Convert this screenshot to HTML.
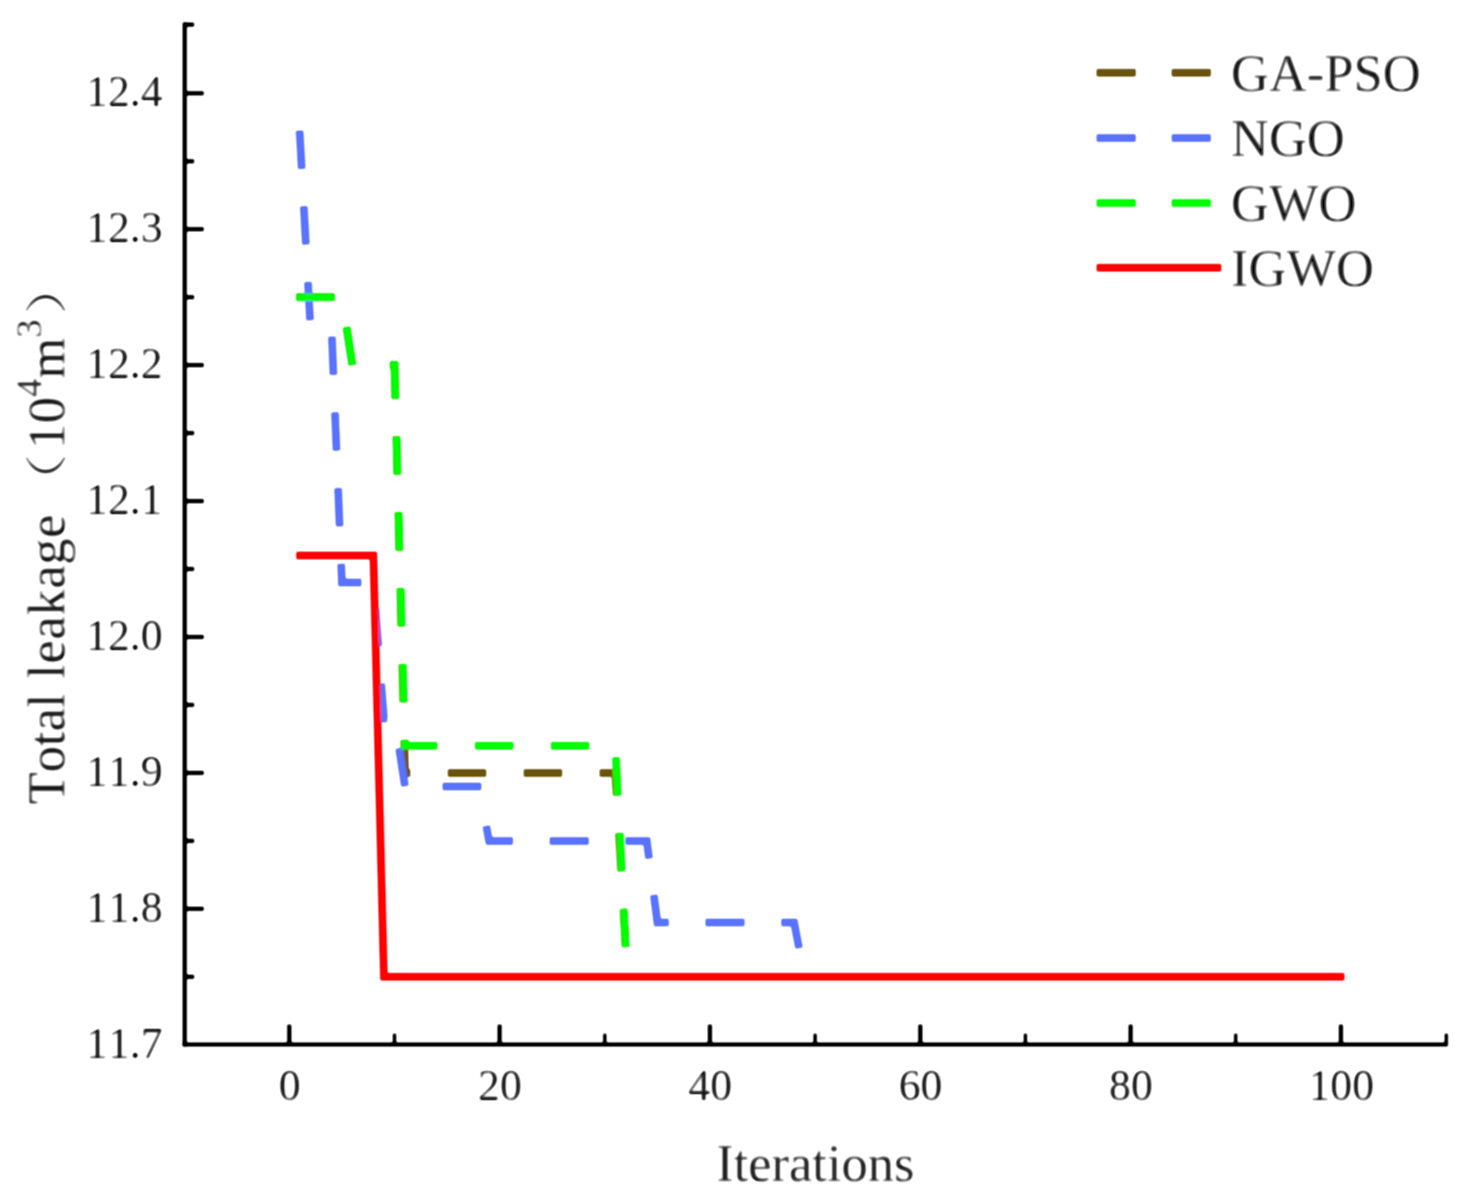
<!DOCTYPE html>
<html lang="en"><head><meta charset="utf-8"><title>Total leakage vs Iterations</title>
<style>html,body{margin:0;padding:0;background:#fff;}body{width:1473px;height:1202px;overflow:hidden;}svg{display:block;}text{font-family:"Liberation Serif","Noto Serif CJK SC",serif;fill:#000;font-kerning:none;stroke:#fff;stroke-width:0.3px;}.tk{font-size:43.75px;stroke-width:0.2px;}.tt{font-size:52.5px;}.sup{font-size:36.75px;}.cj{font-family:"Noto Serif CJK SC","Liberation Serif",serif;font-size:52.5px;font-weight:200;fill:#222;stroke:none;}.ln{fill:none;stroke-width:7.5;stroke-linejoin:miter;}.ds{stroke-dasharray:38.3 37.6;}</style></head><body>
<svg width="1473" height="1202" viewBox="0 0 1473 1202">
<defs><filter id="b" x="-2%" y="-2%" width="104%" height="104%"><feGaussianBlur stdDeviation="0.9"/><feComponentTransfer><feFuncA type="linear" slope="1.5" intercept="-0.22"/></feComponentTransfer></filter></defs>
<rect width="1473" height="1202" fill="#fff"/>
<g filter="url(#b)">
<g stroke="#000" stroke-width="4.2" fill="none">
<path d="M184.7 22.3 V1046.6"/>
<path d="M182.6 1044.5 H1448.0"/>
<path d="M184.7 976.8 H194.2"/>
<path d="M184.7 908.8 H203.8"/>
<path d="M184.7 840.9 H194.2"/>
<path d="M184.7 772.9 H203.8"/>
<path d="M184.7 704.9 H194.2"/>
<path d="M184.7 637.0 H203.8"/>
<path d="M184.7 569.0 H194.2"/>
<path d="M184.7 501.1 H203.8"/>
<path d="M184.7 433.1 H194.2"/>
<path d="M184.7 365.1 H203.8"/>
<path d="M184.7 297.2 H194.2"/>
<path d="M184.7 229.2 H203.8"/>
<path d="M184.7 161.3 H194.2"/>
<path d="M184.7 93.3 H203.8"/>
<path d="M184.7 24.6 H194.2"/>
<path d="M289.3 1044.5 V1024.5"/>
<path d="M394.5 1044.5 V1033.5" stroke-width="3.4"/>
<path d="M499.6 1044.5 V1024.5"/>
<path d="M604.8 1044.5 V1033.5" stroke-width="3.4"/>
<path d="M709.9 1044.5 V1024.5"/>
<path d="M815.1 1044.5 V1033.5" stroke-width="3.4"/>
<path d="M920.3 1044.5 V1024.5"/>
<path d="M1025.4 1044.5 V1033.5" stroke-width="3.4"/>
<path d="M1130.6 1044.5 V1024.5"/>
<path d="M1235.7 1044.5 V1033.5" stroke-width="3.4"/>
<path d="M1340.9 1044.5 V1024.5"/>
<path d="M1446.3 1044.5 V1033.5" stroke-width="3.4"/>
</g>
<text class="tk" transform="translate(162.6 1057.6) scale(1 1.015)" text-anchor="end">11.7</text>
<text class="tk" transform="translate(162.6 921.7) scale(1 1.015)" text-anchor="end">11.8</text>
<text class="tk" transform="translate(162.6 785.8) scale(1 1.015)" text-anchor="end">11.9</text>
<text class="tk" transform="translate(162.6 649.9) scale(1 1.015)" text-anchor="end">12.0</text>
<text class="tk" transform="translate(162.6 514.0) scale(1 1.015)" text-anchor="end">12.1</text>
<text class="tk" transform="translate(162.6 378.0) scale(1 1.015)" text-anchor="end">12.2</text>
<text class="tk" transform="translate(162.6 242.1) scale(1 1.015)" text-anchor="end">12.3</text>
<text class="tk" transform="translate(162.6 106.2) scale(1 1.015)" text-anchor="end">12.4</text>
<text class="tk" transform="translate(289.6 1099.6) scale(1 1.015)" text-anchor="middle">0</text>
<text class="tk" transform="translate(499.9 1099.6) scale(1 1.015)" text-anchor="middle">20</text>
<text class="tk" transform="translate(710.2 1099.6) scale(1 1.015)" text-anchor="middle">40</text>
<text class="tk" transform="translate(920.6 1099.6) scale(1 1.015)" text-anchor="middle">60</text>
<text class="tk" transform="translate(1130.9 1099.6) scale(1 1.015)" text-anchor="middle">80</text>
<text class="tk" transform="translate(1341.2 1099.6) scale(1 1.015)" text-anchor="middle">100</text>
<text class="tt" x="815.3" y="1181.2" text-anchor="middle">Iterations</text>
<g transform="translate(64.3 804.3) rotate(-90)"><text class="tt" x="0" y="0">Total <tspan x="125.6" letter-spacing="0.65">leakage</tspan></text><text class="cj" transform="translate(292.7 -3.3) scale(1.12 0.81)">（</text><text class="tt" x="354.8" y="0">10<tspan class="sup" dy="-23">4</tspan><tspan dy="23">m</tspan><tspan class="sup" dy="-23">3</tspan></text><text class="cj" transform="translate(489.1 -3.3) scale(1.12 0.81)">）</text></g>
<path class="ln ds" stroke="#6b5209" d="M296.3 297.2 L341.9 297.2 L352.4 365.1 L394.5 365.1 L405.0 772.9 L615.3 772.9 L625.8 949.6"/>
<path class="ln" stroke-dasharray="38.3 37.5" stroke="#5a73ff" d="M299.6 130.6 L310.3 324.4 L331.4 324.4 L341.9 582.6 L373.4 582.6 L383.9 718.5 L394.5 718.5 L405.0 786.5"/>
<path class="ln" stroke="#5a73ff" d="M442.6 786.5 H481.3"/>
<path class="ln" stroke-dasharray="39 36.8" stroke-dashoffset="39.05" stroke="#5a73ff" d="M479.3 789.9 L489.1 840.9 L646.8 840.9 L657.4 922.4 L794.1 922.4 L804.6 976.8"/>
<path class="ln ds" stroke="#00ff00" d="M296.3 297.2 L341.9 297.2 L352.4 365.1 L394.5 365.1 L405.0 745.7 L615.3 745.7 L625.8 949.6"/>
<path class="ln" stroke="#ff0000" d="M296.3 555.4 L373.4 555.4 L383.9 976.8 L1340.9 976.8 H1344.4"/>
<path class="ln" stroke="#6b5209" stroke-dasharray="39.1 36" d="M1096.6 72.8 H1211.0"/>
<text class="tt" x="1231" y="90.7">GA-PSO</text>
<path class="ln" stroke="#5a73ff" stroke-dasharray="39.1 36" d="M1096.6 137.9 H1211.0"/>
<text class="tt" x="1231" y="155.8">NGO</text>
<path class="ln" stroke="#00ff00" stroke-dasharray="39.1 36" d="M1096.6 203.0 H1211.0"/>
<text class="tt" x="1231" y="220.9">GWO</text>
<path class="ln" stroke="#ff0000" d="M1096.6 267.8 H1221.3"/>
<text class="tt" x="1231" y="285.7">IGWO</text>
</g></svg></body></html>
